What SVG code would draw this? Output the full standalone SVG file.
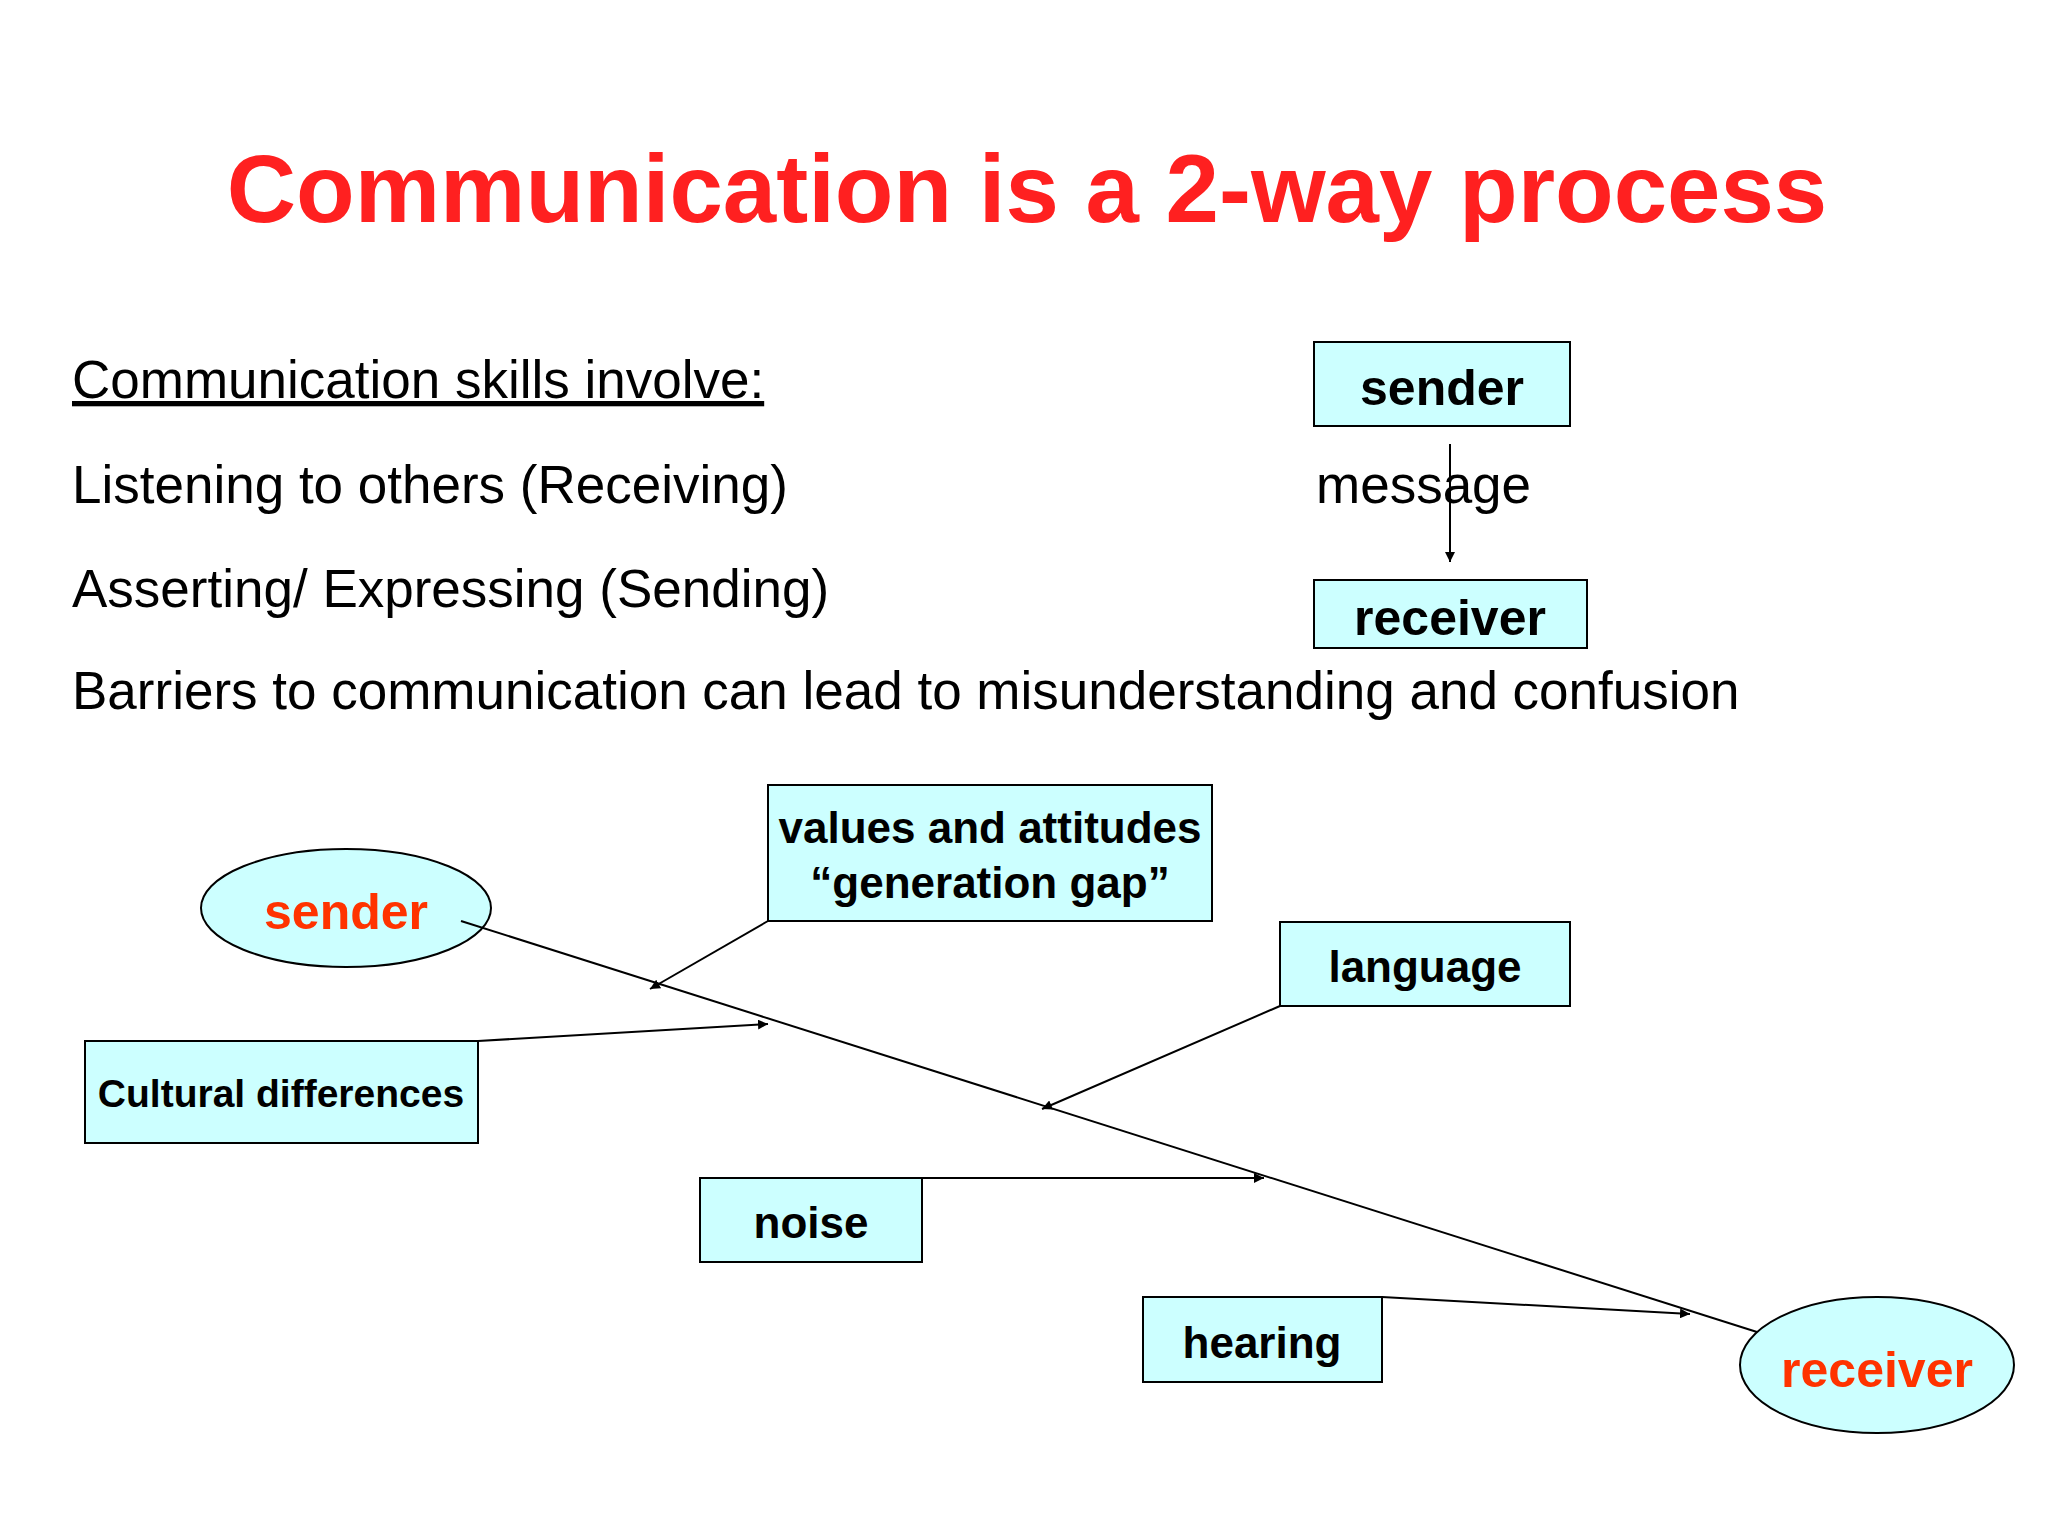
<svg xmlns="http://www.w3.org/2000/svg" width="2048" height="1536" viewBox="0 0 2048 1536">
<defs>
<marker id="ah" viewBox="0 0 10 10" refX="10" refY="5" markerWidth="10" markerHeight="10" markerUnits="userSpaceOnUse" orient="auto"><path d="M0,0 L10,5 L0,10 z" fill="#000"/></marker>
<style>
.t{font-family:"Liberation Sans",Arial,sans-serif;fill:#000}
.b{font-weight:bold}
.box{fill:#CCFFFF;stroke:#000;stroke-width:2}
.c{stroke:#000;stroke-width:2;fill:none;marker-end:url(#ah)}
.red{fill:#FF3300}
</style>
</defs>
<rect width="2048" height="1536" fill="#fff"/>
<text class="t b" x="1027" y="222" font-size="96" text-anchor="middle" fill="#FF2020" style="fill:#FF2020">Communication is a 2-way process</text>
<g id="text-lines">
<text class="t" x="72" y="398" font-size="53" text-decoration="underline">Communication skills involve:</text>
<text class="t" x="72" y="503" font-size="53">Listening to others (Receiving)</text>
<text class="t" x="72" y="607" font-size="53">Asserting/ Expressing (Sending)</text>
<text class="t" x="72" y="709" font-size="53">Barriers to communication can lead to misunderstanding and confusion</text>
</g>
<g id="top-sender"><rect class="box" x="1314" y="342" width="256" height="84"/><text class="t b" x="1442" y="405" font-size="50" text-anchor="middle">sender</text></g>
<g id="top-receiver"><rect class="box" x="1314" y="580" width="273" height="68"/><text class="t b" x="1450" y="635" font-size="50" text-anchor="middle">receiver</text></g>
<g id="message"><text class="t" x="1316" y="503" font-size="53">message</text></g>
<g id="sender"><ellipse class="box" cx="346" cy="908" rx="145" ry="59"/><text class="t b red" x="346" y="929" font-size="50" text-anchor="middle">sender</text></g>
<g id="receiver"><ellipse class="box" cx="1877" cy="1365" rx="137" ry="68"/><text class="t b red" x="1877" y="1387" font-size="50" text-anchor="middle">receiver</text></g>
<g id="values"><rect class="box" x="768" y="785" width="444" height="136"/><text class="t b" x="990" y="843" font-size="44" text-anchor="middle">values and attitudes</text><text class="t b" x="990" y="898" font-size="44" text-anchor="middle">“generation gap”</text></g>
<g id="language"><rect class="box" x="1280" y="922" width="290" height="84"/><text class="t b" x="1425" y="982" font-size="44" text-anchor="middle">language</text></g>
<g id="cultural"><rect class="box" x="85" y="1041" width="393" height="102"/><text class="t b" x="281" y="1107" font-size="39" text-anchor="middle">Cultural differences</text></g>
<g id="noise"><rect class="box" x="700" y="1178" width="222" height="84"/><text class="t b" x="811" y="1238" font-size="44" text-anchor="middle">noise</text></g>
<g id="hearing"><rect class="box" x="1143" y="1297" width="239" height="85"/><text class="t b" x="1262" y="1358" font-size="44" text-anchor="middle">hearing</text></g>
<g id="connectors">
<line class="c" x1="1450" y1="444" x2="1450" y2="562"/>
<line x1="461" y1="921" x2="1757" y2="1332" stroke="#000" stroke-width="2"/>
<line class="c" x1="768" y1="921" x2="650" y2="989"/>
<line class="c" x1="1280" y1="1006" x2="1042" y2="1109"/>
<line class="c" x1="478" y1="1041" x2="768" y2="1024"/>
<line class="c" x1="922" y1="1178" x2="1264" y2="1178"/>
<line class="c" x1="1382" y1="1297" x2="1690" y2="1314"/>
</g>
</svg>
